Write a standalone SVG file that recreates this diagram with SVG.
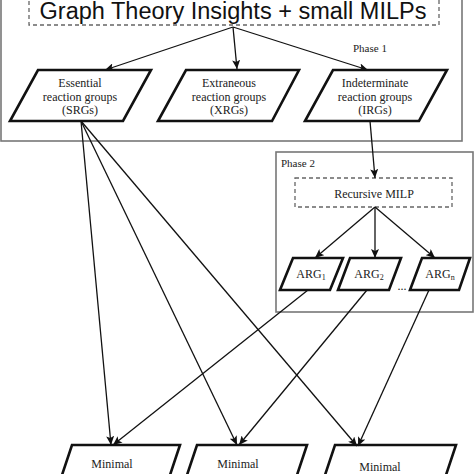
<svg xmlns="http://www.w3.org/2000/svg" width="474" height="474" viewBox="0 0 474 474">
<defs>
<marker id="ah" markerUnits="userSpaceOnUse" markerWidth="10" markerHeight="8" refX="9" refY="4" orient="auto">
<path d="M0,0 L9,4 L0,8 L2,4 z" fill="#111"/>
</marker>
<style>
.frame{fill:none;stroke:#777;stroke-width:1.6}
.dash{fill:none;stroke:#666;stroke-width:1.3;stroke-dasharray:4 3}
.node{fill:#fff;stroke:#111;stroke-width:2.6;stroke-linejoin:miter}
.conn line{stroke:#111;stroke-width:1.3;marker-end:url(#ah)}
.t{font-family:"Liberation Serif","Times New Roman",serif;font-size:12px;fill:#222;text-anchor:middle}
.lbl{font-family:"Liberation Serif","Times New Roman",serif;font-size:11px;fill:#222}
</style>
</defs>
<rect width="474" height="474" fill="#fff"/>
<g id="phase1">
<rect class="frame" x="1" y="-10" width="461" height="151"/>
<text class="lbl" x="353" y="52">Phase 1</text>
</g>
<g id="phase2">
<rect class="frame" x="276" y="152" width="197" height="160"/>
<text class="lbl" x="281" y="167">Phase 2</text>
</g>
<g id="title">
<rect class="dash" x="29" y="-10" width="410" height="35"/>
<text x="233" y="19" font-family="'Liberation Sans',Arial,sans-serif" font-size="23.5" fill="#111" text-anchor="middle">Graph Theory Insights + small MILPs</text>
</g>
<g id="srg">
<polygon class="node" points="38,70 151,70 123,121 10,121"/>
<text class="t" x="80" y="87">Essential</text>
<text class="t" x="80" y="100.5">reaction groups</text>
<text class="t" x="80" y="114">(SRGs)</text>
</g>
<g id="xrg">
<polygon class="node" points="186,70 299,70 272,121 158,121"/>
<text class="t" x="229" y="87">Extraneous</text>
<text class="t" x="229" y="100.5">reaction groups</text>
<text class="t" x="229" y="114">(XRGs)</text>
</g>
<g id="irg">
<polygon class="node" points="333,70 447,70 419,121 305,121"/>
<text class="t" x="375" y="87">Indeterminate</text>
<text class="t" x="375" y="100.5">reaction groups</text>
<text class="t" x="375" y="114">(IRGs)</text>
</g>
<g id="rmilp">
<rect class="dash" x="295" y="178" width="157" height="29"/>
<text class="t" x="374" y="198" font-size="14">Recursive MILP</text>
</g>
<g id="arg1">
<polygon class="node" points="293,258 343,258 330,290 280,290"/>
<text class="t" x="311" y="278">ARG<tspan font-size="8" dy="2">1</tspan></text>
</g>
<g id="arg2">
<polygon class="node" points="350,258 401,258 389,290 338,290"/>
<text class="t" x="369" y="278">ARG<tspan font-size="8" dy="2">2</tspan></text>
</g>
<g id="argn">
<polygon class="node" points="422,258 470,258 459,290 410,290"/>
<text class="t" x="440" y="278">ARG<tspan font-size="8" dy="2">n</tspan></text>
</g>
<g id="dots">
<text class="t" x="402" y="290">...</text>
</g>
<g id="min1">
<polygon class="node" points="72,445 180,445 165,490 57,490"/>
<text class="t" x="112" y="468">Minimal</text>
</g>
<g id="min2">
<polygon class="node" points="197,445 307,445 292,490 182,490"/>
<text class="t" x="238" y="468">Minimal</text>
</g>
<g id="min3">
<polygon class="node" points="335,445 456,445 441,490 320,490"/>
<text class="t" x="380" y="471">Minimal</text>
</g>
<g id="connectors" class="conn">
<line x1="233" y1="27" x2="105" y2="70"/>
<line x1="233" y1="27" x2="237" y2="69"/>
<line x1="233" y1="27" x2="368" y2="70"/>
<line x1="370" y1="121" x2="375" y2="178"/>
<line x1="375" y1="207" x2="315" y2="258"/>
<line x1="375" y1="207" x2="375" y2="258"/>
<line x1="375" y1="207" x2="435" y2="258"/>
<line x1="81" y1="121" x2="111" y2="445"/>
<line x1="81" y1="121" x2="237" y2="445"/>
<line x1="81" y1="121" x2="357" y2="446"/>
<line x1="308" y1="290" x2="113" y2="445"/>
<line x1="367" y1="290" x2="239" y2="445"/>
<line x1="429" y1="290" x2="358" y2="446"/>
</g>
</svg>
